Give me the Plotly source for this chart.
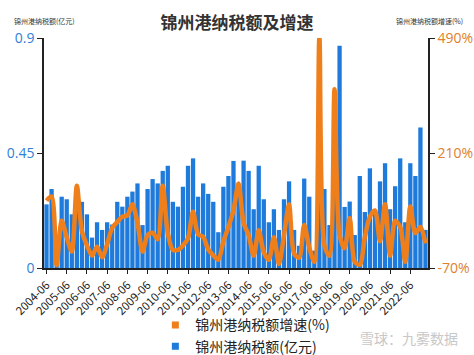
import plotly.graph_objects as go

# ---- data ----
years = list(range(2004, 2024))
quarters = ["03", "06", "09", "12"]
categories = [f"{y}-{q}" for y in years for q in quarters][1:-3]  # 2004-06 .. 2023-03

tax_amount = [  # 锦州港纳税额(亿元)
    0.249, 0.309, 0.11, 0.279, 0.269, 0.210, 0.26, 0.259,
    0.210, 0.119, 0.179, 0.149, 0.179, 0.17, 0.259, 0.24,
    0.279, 0.299, 0.331, 0.168, 0.309, 0.348, 0.331, 0.38,
    0.40, 0.259, 0.24, 0.318, 0.40, 0.429, 0.279, 0.331,
    0.29, 0.259, 0.14, 0.318, 0.36, 0.419, 0.33, 0.42,
    0.38, 0.23, 0.40, 0.269, 0.179, 0.23, 0.149, 0.269,
    0.339, 0.149, 0.087, 0.35, 0.279, 0.068, 0.52, 0.309,
    0.168, 0.309, 0.87, 0.239, 0.26, 0.129, 0.36, 0.219,
    0.39, 0.22, 0.339, 0.41, 0.23, 0.32, 0.429, 0.179,
    0.41, 0.36, 0.55, 0.149,
]

tax_growth = [  # 锦州港纳税额增速(%)
    94, 104, -63, 45, 5, -30, 130, 20,
    -15, -40, -18, -44, -12, 28, 42, 55,
    58, 85, 40, -30, 10, 16, 0, 130,
    15, -26, -26, -15, 2, 67, 12, 6,
    -25, -39, -50, -5, 30, 70, 136, 40,
    10, -40, 22, -32, -50, 5, -60, 10,
    85, -35, -45, 35, -20, -55, 490, -15,
    -40, 365, 10, -22, 52, -55, -62, 5,
    55, 70, -5, 85, -40, 45, 30, -55,
    80, 15, 30, -10,
]

tick_labels = [c for c in categories if c.endswith("-06")]
left_ticks = [0, 0.45, 0.9]
right_ticks = [-70, 210, 490]

BLUE = "#1E7BDC"
ORANGE = "#EF7F1A"
CJK = "Noto Sans CJK SC"

fig = go.Figure()

fig.add_trace(go.Bar(
    x=categories, y=tax_amount, name="锦州港纳税额(亿元)",
    marker=dict(color=BLUE, line=dict(width=0)), showlegend=False,
))
fig.add_trace(go.Scatter(
    x=categories, y=tax_growth, name="锦州港纳税额增速(%)", yaxis="y2",
    mode="lines", line=dict(color=ORANGE, width=4.5, shape="spline", smoothing=0.8),
    showlegend=False,
))
# legend entries (square swatches)
fig.add_trace(go.Scatter(
    x=[None], y=[None], mode="markers", name="锦州港纳税额增速(%)",
    marker=dict(symbol="square", color=ORANGE, size=7),
))
fig.add_trace(go.Scatter(
    x=[None], y=[None], mode="markers", name="锦州港纳税额(亿元)",
    marker=dict(symbol="square", color=BLUE, size=7),
))

fig.update_layout(
    width=474, height=355,
    margin=dict(l=44, r=46, t=38, b=87, autoexpand=False),
    paper_bgcolor="white", plot_bgcolor="white",
    font=dict(family=CJK, color="#333"),
    bargap=0.15,
    title=dict(text="<b>锦州港纳税额及增速</b>", x=0.5, xanchor="center",
               y=0.935, yanchor="middle", font=dict(size=17, color="#333", family=CJK)),
    xaxis=dict(
        type="category", categoryorder="array", categoryarray=categories,
        tickmode="array", tickvals=tick_labels, ticktext=tick_labels,
        tickangle=-45, tickfont=dict(size=11.5, color="#222", family=CJK),
        ticks="outside", ticklen=4, tickcolor="#222", automargin=False,
        showline=True, linecolor="#222", linewidth=1.5,
        showgrid=False, range=[-0.5, len(categories) - 0.5],
    ),
    yaxis=dict(
        range=[0, 0.9], tickvals=left_ticks, ticktext=["0", "0.45", "0.9"],
        tickfont=dict(size=14, color="#2F7FD6", family="Open Sans"),
        ticks="outside", ticklen=5, tickcolor="#222", automargin=False,
        showline=True, linecolor="#222", linewidth=1.5,
        showgrid=False, zeroline=False,
    ),
    yaxis2=dict(
        overlaying="y", side="right", range=[-70, 490],
        tickvals=right_ticks, ticktext=[f"{v}%" for v in right_ticks],
        tickfont=dict(size=14, color="#E0802C", family="Open Sans"),
        ticks="outside", ticklen=5, tickcolor="#222", automargin=False,
        showline=True, linecolor="#222", linewidth=1.5,
        showgrid=False, zeroline=False,
    ),
    legend=dict(
        orientation="v", x=0.29, xanchor="left", y=-0.18, yanchor="top",
        font=dict(size=14, color="#222", family=CJK),
        itemwidth=30, tracegroupgap=0, bgcolor="rgba(0,0,0,0)",
    ),
    showlegend=True,
)

fig.add_annotation(text="锦州港纳税额(亿元)", xref="paper", yref="paper",
                   x=0.0, y=1.072, xanchor="center", yanchor="middle", showarrow=False,
                   font=dict(size=7, color="#333", family=CJK))
fig.add_annotation(text="锦州港纳税额增速(%)", xref="paper", yref="paper",
                   x=1.005, y=1.072, xanchor="center", yanchor="middle", showarrow=False,
                   font=dict(size=7, color="#333", family=CJK))
fig.add_annotation(text="雪球：九雾数据", xref="paper", yref="paper",
                   x=1.083, y=-0.305, xanchor="right", yanchor="middle", showarrow=False,
                   font=dict(size=14, color="#C8C8C8", family=CJK))

fig.write_html("out.html", config={"displayModeBar": False},
               post_script="document.body.style.margin='0';document.body.style.overflow='hidden';")
